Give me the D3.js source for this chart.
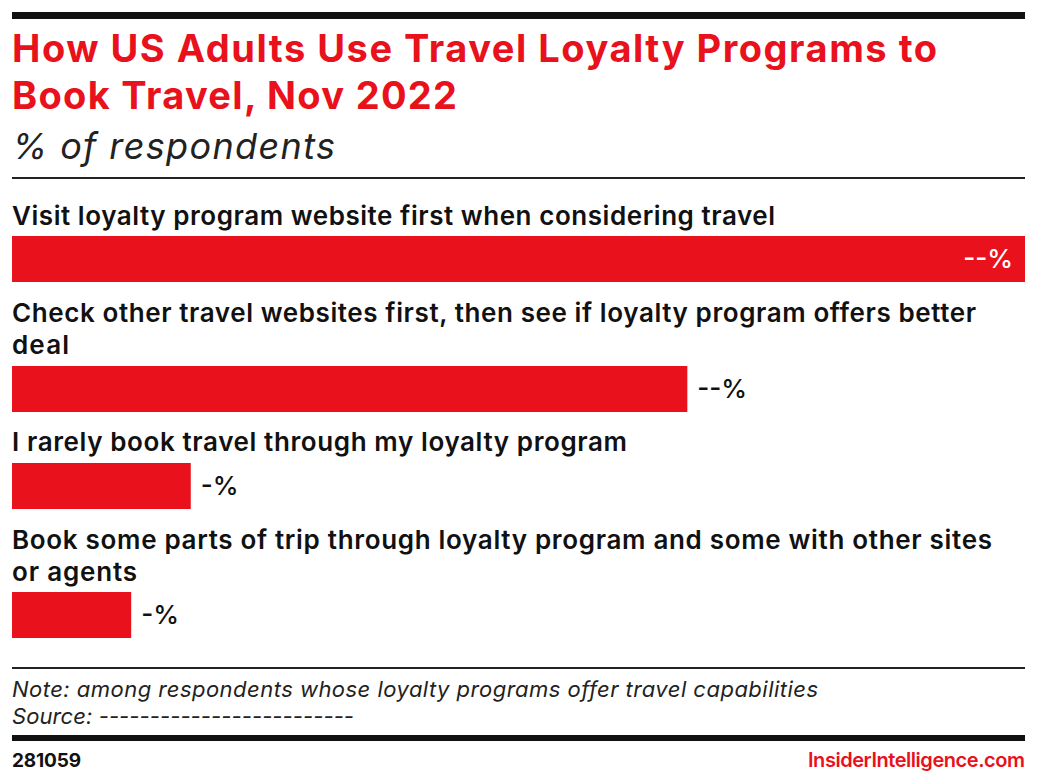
<!DOCTYPE html>
<html><head><meta charset="utf-8">
<script src="https://cdn.jsdelivr.net/npm/d3@7"></script>
<style>body{margin:0;background:#fff}svg{font-family:Inter,"Noto Sans",sans-serif}</style>
</head><body><svg id="c" width="1038" height="784"></svg>
<script>
const categories = [
  ["Visit loyalty program website first when considering travel"],
  ["Check other travel websites first, then see if loyalty program offers better","deal"],
  ["I rarely book travel through my loyalty program"],
  ["Book some parts of trip through loyalty program and some with other sites","or agents"]
];
const values = [51, 34, 9, 6];
const valueLabels = ["--%","--%","-%","-%"];

const svg = d3.select("#c");
const red = "#e8111c";
function txt(x,y,s,size,opts,len){
  const t = svg.append("text").attr("x",x).attr("y",y).attr("font-size",size).text(s);
  Object.entries(opts||{}).forEach(([k,v])=>t.attr(k,v));
  if(len) t.attr("textLength",len).attr("lengthAdjust","spacing");
  return t;
}
svg.append("rect").attr("x",12).attr("y",12).attr("width",1013).attr("height",7).attr("fill","#111");
txt(12,62,"How US Adults Use Travel Loyalty Programs to",38,{fill:red,"font-weight":700},925);
txt(12,109,"Book Travel, Nov 2022",38,{fill:red,"font-weight":700},445);
txt(12,159,"% of respondents",36,{fill:"#222","font-style":"italic"},323);
svg.append("rect").attr("x",12).attr("y",177).attr("width",1013).attr("height",2).attr("fill","#222");

const labelLens = [[763],[964,57],[615],[980,125]];
const x = d3.scaleLinear().domain([0, d3.max(values)]).range([12, 1025]);
const labelY = [[225],[322,354],[451],[549,581]];
const barY = [236,366,463,592];
const barH = 46;
categories.forEach((lines,i)=>{
  lines.forEach((l,j)=>txt(12,labelY[i][j],l,26,{"font-weight":600,fill:"#111"},labelLens[i][j]));
  const w = x(values[i]) - x(0);
  svg.append("rect").attr("x",x(0)).attr("y",barY[i]).attr("width",w).attr("height",barH).attr("fill",red);
  const inside = i===0;
  svg.append("text").attr("x", inside ? x(values[i])-12 : x(values[i])+10).attr("y",barY[i]+barH/2+9)
    .attr("text-anchor", inside?"end":"start").attr("font-size",26).attr("font-weight",500)
    .attr("fill", inside?"#fff":"#111").text(valueLabels[i]);
});
svg.append("rect").attr("x",12).attr("y",667).attr("width",1013).attr("height",2).attr("fill","#222");
txt(12,697,"Note: among respondents whose loyalty programs offer travel capabilities",22,{"font-style":"italic",fill:"#222"},806);
txt(12,724,"Source: -------------------------",22,{"font-style":"italic",fill:"#222"},342);
svg.append("rect").attr("x",12).attr("y",735).attr("width",1013).attr("height",6).attr("fill","#111");
txt(12,767,"281059",19,{"font-weight":700,fill:"#111"},69);
txt(808,767,"InsiderIntelligence.com",20,{"font-weight":600,fill:red},217);
</script></body></html>
